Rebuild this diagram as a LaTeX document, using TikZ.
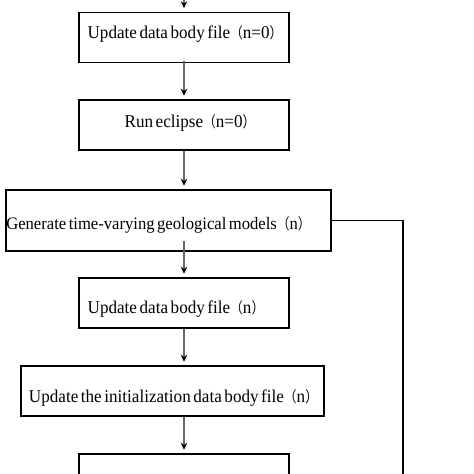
\documentclass[tikz,border=0pt]{standalone}
\usepackage{fontspec}
\setmainfont{Liberation Serif}
\newfontfamily\boxfont[FakeStretch=0.95, WordSpace=0.6]{Liberation Serif}
\newfontfamily\cjk[FakeStretch=0.85]{Noto Sans CJK SC}
\usetikzlibrary{arrows.meta, positioning, calc}

\newcommand{\lpar}{{\cjk\fontsize{15}{17}\selectfont （}}
\newcommand{\rpar}{{\cjk\fontsize{15}{17}\selectfont ）}}

\tikzset{
    stepbox/.style={draw=black, line width=1.6pt, minimum height=50pt,
        minimum width=210pt, inner sep=0pt, text depth=0pt,
        font=\boxfont\fontsize{18}{20}\selectfont},
    base/.style={text height=#1},
    pad/.style={execute at end node={\hspace{#1}}},
    flow/.style={draw=black!60, line width=2pt, shorten >=3.5pt,
        -{Stealth[black, length=7pt, width=6.5pt]}},
}

\begin{document}
\begin{tikzpicture}[x=1pt, y=-1pt]

    \useasboundingbox (0,0) rectangle (474,474);
    \clip (0,0) rectangle (474,474);

    \coordinate (start) at (184,-10);
    \coordinate (loopend) at (403,490);

    \node[stepbox, base=2pt, pad=-2pt] (upd0) at (184,37.5)
        {Update data body file\lpar n=0\rpar};
    \node[stepbox, base=4pt, pad=-12pt] (run0) at (184,125)
        {Run eclipse\lpar n=0\rpar};
    \node[stepbox, base=17pt, pad=20pt, minimum width=321pt, minimum height=61pt,
        font=\boxfont\fontsize{17.5}{20}\selectfont]
        (geo) at (168.5,220.5) {Generate time-varying geological models\lpar n\rpar};
    \node[stepbox, base=20pt, pad=16pt] (updn) at (184,303)
        {Update data body file\lpar n\rpar};
    \node[stepbox, base=22pt, pad=-2pt, minimum width=303pt] (init) at (172.5,391)
        {Update the initialization data body file\lpar n\rpar};
    \node[stepbox] (next) at (184,479) {};

    \draw[flow] (start) -- (upd0.north);
    \draw[flow] ($(upd0.south)+(0,-2)$) -- (run0.north);
    \draw[flow] (run0.south) -- (run0.south |- geo.north);
    \draw[flow] ($(geo.south -| updn.north)+(0,-11)$) -- (updn.north);
    \draw[flow] (updn.south) -- (updn.south |- init.north);
    \draw[flow] (init.south -| next.north) -- (next.north);

    \draw[line width=1.6pt] (geo.east) -| (loopend);

\end{tikzpicture}
\end{document}
